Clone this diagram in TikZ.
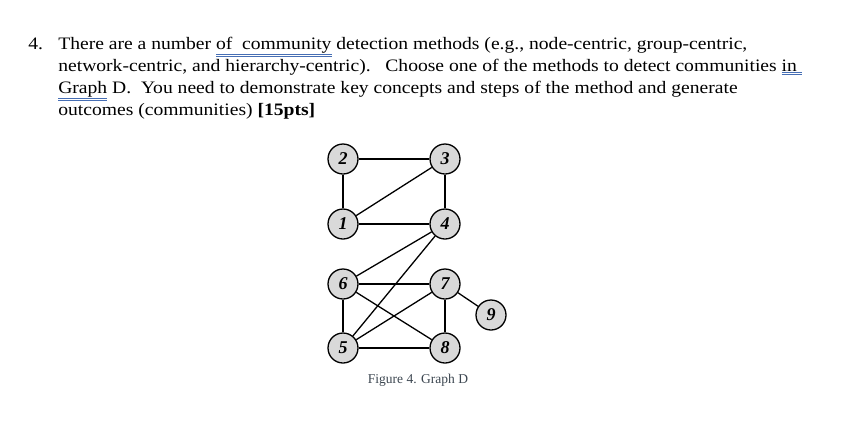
\documentclass[tikz,border=0pt]{standalone}
\usepackage{fontspec}
\setmainfont{Liberation Serif}
\newfontfamily\qfont[FakeStretch=1.12]{Liberation Serif}
\usepackage{xcolor}
\definecolor{ulblue}{RGB}{70,110,180}
\definecolor{capgray}{RGB}{60,70,80}
\newcommand{\gramul}[1]{\textcolor{ulblue}{\underline{\underline{\textcolor{black}{#1}}}}}
\usetikzlibrary{positioning}

\begin{document}
\begin{tikzpicture}[x=1pt,y=-1pt,semithick,
  vtx/.style={circle,draw,line width=1.3pt,fill=gray!30,minimum size=30pt,inner sep=0pt,font=\fontsize{18}{18}\selectfont\bfseries\itshape},
  txt/.style={anchor=base west,inner sep=0pt,font=\qfont\fontsize{17.5}{20}\selectfont}]
\useasboundingbox (0,0) rectangle (852,440);
		% question text
		\node[txt] (num) at (28,49) {4.};
		\node[txt] (l1) at (58,49) {There are a number \gramul{of\ \ community} detection methods (e.g., node-centric, group-centric,};
		\node[txt] (l2) at (58,71) {network-centric, and hierarchy-centric).\ \ \ Choose one of the methods to detect communities \gramul{in\ }};
		\node[txt] (l3) at (58,93) {\gramul{Graph} D.\ \ You need to demonstrate key concepts and steps of the method and generate};
		\node[txt] (l4) at (58,115) {outcomes (communities) \textbf{[15pts]}};

		% graph D
		\node[vtx] (v2) at (343,159) {2};
		\node[vtx] (v3) at (445,159) {3};
		\node[vtx] (v1) at (343,224) {1};
		\node[vtx] (v4) at (445,224) {4};
		\node[vtx] (v6) at (343,284) {6};
		\node[vtx] (v7) at (445,284) {7};
		\node[vtx] (v9) at (491,315) {9};
		\node[vtx] (v5) at (343,348) {5};
		\node[vtx] (v8) at (445,348) {8};
		\node[font=\fontsize{13.5}{14}\selectfont,text=capgray] (cap) at (418,380) {Figure 4. Graph D};

		\foreach \a/\b in {2/3,2/1,1/3,3/4,1/4,4/6,4/5,6/7,6/5,6/8,7/5,7/8,7/9,5/8}
			\draw[line width=1.3pt] (v\a) -- (v\b);
\end{tikzpicture}
\end{document}
